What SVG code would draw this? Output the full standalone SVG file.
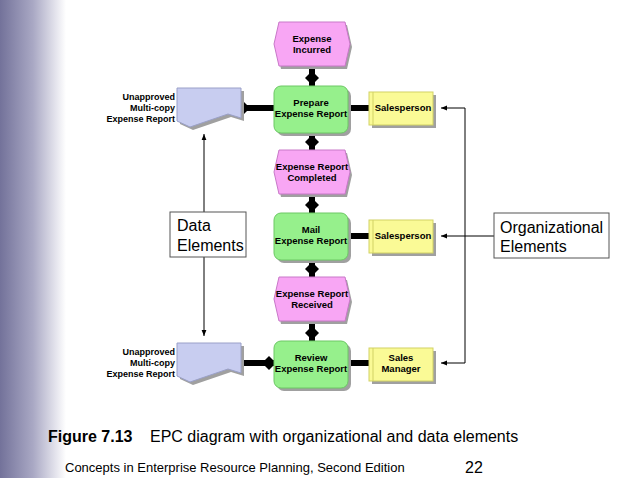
<svg xmlns="http://www.w3.org/2000/svg" width="638" height="478" viewBox="0 0 638 478">
<defs>
<linearGradient id="bar" x1="0" x2="1" y1="0" y2="0"><stop offset="0" stop-color="#73729a"/><stop offset="0.5" stop-color="#a9a8c4"/><stop offset="1" stop-color="#ffffff"/></linearGradient>
<marker id="ar" viewBox="0 0 10 10" refX="10" refY="5" markerWidth="6" markerHeight="6" orient="auto"><path d="M0,1 L10,5 L0,9z" fill="#000"/></marker>
</defs>
<style>
.ev{fill:#f8a6f4;stroke:#c878c8;stroke-width:1}
.fn{fill:#96f08c;stroke:#6cc864;stroke-width:1}
.org{fill:#fafa96;stroke:#d2d264;stroke-width:1}
.doc{fill:#c8cdf0;stroke:#9aa0c8;stroke-width:1}
.sh{fill:#a0a0a0}
.t{font-family:"Liberation Sans",Arial,sans-serif;font-size:9.5px;font-weight:bold;text-anchor:middle;fill:#000}
.tr{font-family:"Liberation Sans",Arial,sans-serif;font-size:9px;font-weight:bold;text-anchor:end;fill:#000}
.big{font-family:"Liberation Sans",Arial,sans-serif;font-size:16px;fill:#000}
.thick{stroke:#000;stroke-width:6;fill:none}
.thin{stroke:#000;stroke-width:1;fill:none;marker-end:url(#ar)}
.lbl{fill:#fff;stroke:#555;stroke-width:1}
</style>
<rect x="0" y="0" width="638" height="478" fill="#fff"/>
<rect x="0" y="0" width="66" height="478" fill="url(#bar)"/>
<g id="connectors">
<line class="thick" x1="312" y1="67" x2="312" y2="86"/><path d="M312,71 l7,7 -7,7 -7,-7z"/>
<line class="thick" x1="312" y1="133" x2="312" y2="150"/><path d="M312,135 l7,7 -7,7 -7,-7z"/>
<line class="thick" x1="312" y1="195" x2="312" y2="213"/><path d="M312,198 l7,7 -7,7 -7,-7z"/>
<line class="thick" x1="312" y1="260" x2="312" y2="277"/><path d="M312,262 l7,7 -7,7 -7,-7z"/>
<line class="thick" x1="312" y1="322" x2="312" y2="341"/><path d="M312,326 l7,7 -7,7 -7,-7z"/>
<line class="thick" x1="242" y1="108" x2="275" y2="108"/><path d="M236,108 l7,-7 7,7 -7,7z"/>
<line class="thick" x1="349" y1="108" x2="369" y2="108"/>
<line class="thick" x1="349" y1="236" x2="369" y2="236"/>
<line class="thick" x1="244" y1="363" x2="275" y2="363"/><path d="M262,363 l7,-7 7,7 -7,7z"/>
<line class="thick" x1="349" y1="363" x2="369" y2="363"/>
<line class="thin" x1="204" y1="212" x2="204" y2="134"/>
<line class="thin" x1="204" y1="257" x2="204" y2="336"/>
<line class="thin" x1="494" y1="236" x2="441" y2="236"/>
<polyline class="thin" points="465,236 465,108 441,108"/>
<polyline class="thin" points="465,236 465,363 441,363"/>
</g>
<g id="ev1"><path class="sh" d="M281,25 h66 l5,22 -5,22 h-66 l-5,-22z"/><path class="ev" d="M279,22 h66 l5,22 -5,22 h-66 l-5,-22z"/><text class="t" x="312" y="42">Expense</text><text class="t" x="312" y="53">Incurred</text></g>
<g id="fn1"><rect class="sh" x="277" y="89" width="74" height="47" rx="7"/><rect class="fn" x="274" y="86" width="74" height="47" rx="7"/><text class="t" x="311" y="106">Prepare</text><text class="t" x="311" y="117">Expense Report</text></g>
<g id="org1"><rect class="sh" x="372" y="95" width="64" height="33"/><rect class="org" x="369" y="92" width="64" height="33"/><line x1="373" y1="92" x2="373" y2="125" stroke="#d2d264"/><text class="t" x="403" y="111">Salesperson</text></g>
<g id="doc1"><path class="sh" d="M180,91 h64 v30 l-13,-4 -38,13 -13,-6z"/><path class="doc" d="M177,88 h64 v30 l-13,-4 -38,13 -13,-6z"/><text class="tr" x="175" y="100">Unapproved</text><text class="tr" x="175" y="111">Multi-copy</text><text class="tr" x="175" y="122">Expense Report</text></g>
<g id="ev2"><path class="sh" d="M281,153 h66 l5,22 -5,22 h-66 l-5,-22z"/><path class="ev" d="M279,150 h66 l5,22 -5,22 h-66 l-5,-22z"/><text class="t" x="312" y="170">Expense Report</text><text class="t" x="312" y="181">Completed</text></g>
<g id="fn2"><rect class="sh" x="277" y="216" width="74" height="47" rx="7"/><rect class="fn" x="274" y="213" width="74" height="47" rx="7"/><text class="t" x="311" y="233">Mail</text><text class="t" x="311" y="244">Expense Report</text></g>
<g id="org2"><rect class="sh" x="372" y="223" width="64" height="33"/><rect class="org" x="369" y="220" width="64" height="33"/><line x1="373" y1="220" x2="373" y2="253" stroke="#d2d264"/><text class="t" x="403" y="239">Salesperson</text></g>
<g id="ev3"><path class="sh" d="M281,280 h66 l5,22 -5,22 h-66 l-5,-22z"/><path class="ev" d="M279,277 h66 l5,22 -5,22 h-66 l-5,-22z"/><text class="t" x="312" y="297">Expense Report</text><text class="t" x="312" y="308">Received</text></g>
<g id="fn3"><rect class="sh" x="277" y="344" width="74" height="47" rx="7"/><rect class="fn" x="274" y="341" width="74" height="47" rx="7"/><text class="t" x="311" y="361">Review</text><text class="t" x="311" y="372">Expense Report</text></g>
<g id="org3"><rect class="sh" x="372" y="351" width="64" height="33"/><rect class="org" x="369" y="348" width="64" height="33"/><line x1="373" y1="348" x2="373" y2="381" stroke="#d2d264"/><text class="t" x="401" y="361">Sales</text><text class="t" x="401" y="372">Manager</text></g>
<g id="doc2"><path class="sh" d="M180,346 h64 v30 l-13,-4 -38,13 -13,-6z"/><path class="doc" d="M177,343 h64 v30 l-13,-4 -38,13 -13,-6z"/><text class="tr" x="175" y="355">Unapproved</text><text class="tr" x="175" y="366">Multi-copy</text><text class="tr" x="175" y="377">Expense Report</text></g>
<g id="data"><rect class="lbl" x="170" y="212" width="76" height="45"/><text class="big" x="177" y="231">Data</text><text class="big" x="177" y="251">Elements</text></g>
<g id="orgel"><rect class="lbl" x="494" y="213" width="115" height="45"/><text class="big" x="500" y="233">Organizational</text><text class="big" x="500" y="252">Elements</text></g>
<text x="48" y="442" font-family="Liberation Sans,Arial,sans-serif" font-size="16" font-weight="bold" fill="#000">Figure 7.13</text>
<text x="150" y="442" font-family="Liberation Sans,Arial,sans-serif" font-size="16" fill="#000">EPC diagram with organizational and data elements</text>
<text x="65" y="472" font-family="Liberation Sans,Arial,sans-serif" font-size="13" fill="#000">Concepts in Enterprise Resource Planning, Second Edition</text>
<text x="465" y="473" font-family="Liberation Sans,Arial,sans-serif" font-size="16" fill="#000">22</text>
</svg>
